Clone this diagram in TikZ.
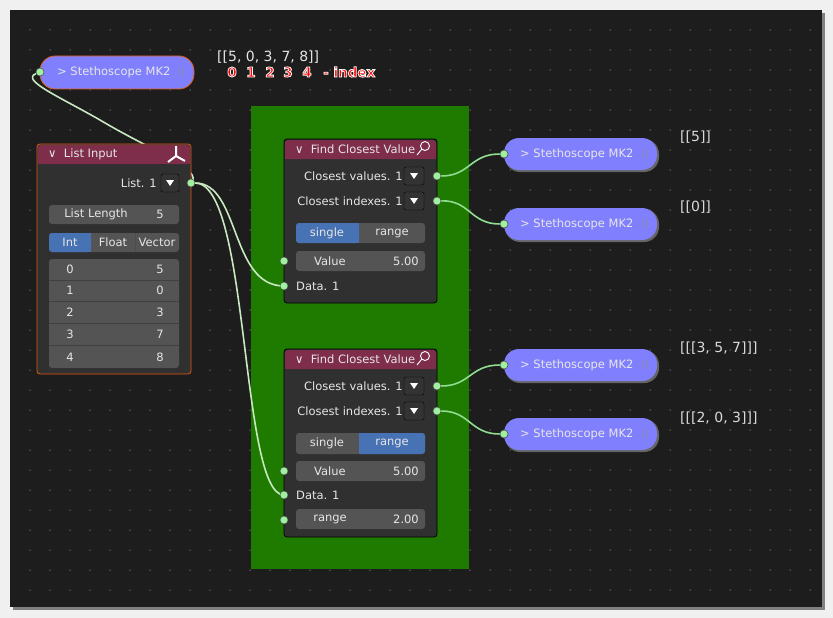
\documentclass[tikz,border=0pt]{standalone}
\usepackage{fontspec}
\setmainfont{DejaVu Sans}
\begin{document}
\definecolor{canvas}{HTML}{1D1D1D}
\definecolor{steth}{HTML}{8080FF}
\definecolor{hdr}{HTML}{7E2D4A}
\definecolor{body}{HTML}{303030}
\definecolor{field}{HTML}{545454}
\definecolor{sel}{HTML}{4772B3}
\definecolor{frame}{HTML}{1E7B00}
\definecolor{sock}{HTML}{A0F0A0}
\definecolor{wire}{HTML}{90DC90}
\definecolor{wire2}{HTML}{C8E8C0}
\definecolor{txt}{HTML}{E6E6E6}
\definecolor{ored}{HTML}{E05A10}
\tikzset{
 sk/.style={circle,fill=sock,draw=black!70,line width=0.5pt,inner sep=0,minimum size=8pt},
 lbl/.style={text=txt,font=\fontsize{11.5}{13}\selectfont,inner sep=0},
 st/.style={rounded corners=15pt,fill=steth},
 wr/.style={wire,line width=1.6pt},
 wr2/.style={wire2,line width=1.6pt},
 dd/.style={fill=black!80!white,draw=black,rounded corners=2pt},
 fld/.style={fill=field,rounded corners=3pt},
 res/.style={text=black!15,font=\fontsize{14}{16}\selectfont,inner sep=0,anchor=west},
 idxf/.style={font=\bfseries\fontsize{13.5}{15}\selectfont,inner sep=0,text=red}
}
\newcommand{\strk}[1]{\special{pdf:code 2 Tr 0.8 w 1 1 1 RG}#1\special{pdf:code 0 Tr}}
\begin{tikzpicture}[x=1pt,y=-1pt]
\useasboundingbox (0,0) rectangle (833,618);
\fill[black!6] (0,0) rectangle (833,618);
\fill[black!50] (13,13) rectangle (825,610);
\fill[canvas] (10,10) rectangle (822,607);
\foreach \i in {30,50,...,810}{\foreach \j in {30,50,...,590}{\fill[black!70!white!18] (\i,\j) circle (0.5);}}
% green frame
\fill[frame] (251,106) rectangle (469,569);
% top text
\node[res,text=black!10] (arr) at (217,57) {[[5, 0, 3, 7, 8]]};
\foreach \k/\x in {0/232,1/251,2/270,3/288,4/307}{
 \node[idxf] (i\k) at (\x,72) {\strk{\k}};}
\node[idxf,anchor=west] (ix) at (323,72) {\strk{- index}};
% top stethoscope
\draw[st,draw=ored,line width=0.8pt] (40,56) rectangle (194,89);
\node[lbl,anchor=west] (s0) at (57,72) {\textgreater\ Stethoscope MK2};
\node[text=black!45,inner sep=0,font=\small] (g0) at (181,72) {||};
\node[sk] (s0in) at (40,72) {};
% List input node
\coordinate (li) at (191,183);
\draw[wr2] (li) .. controls (205,170) and (150,150) .. (100,120) .. controls (60,97) and (20,80) .. (s0in);
\draw[ored,fill=body,line width=0.8pt,rounded corners=3pt] (37,144) rectangle (191,374);
\fill[hdr,rounded corners=3pt] (38,145) rectangle (190,164);
\fill[hdr] (38,158) rectangle (190,164);
\node[lbl,anchor=west] (lih) at (48,154) {\char"2228\ \ List Input};
\draw[white,line width=2pt] (176,146)--(176,156)--(168,162) (176,156)--(185,161);
\node[lbl,anchor=east] (l1) at (157,183) {List. 1};
\draw[dd] (161,174) rectangle (179,192);
\fill[white] (166,180)--(174,180)--(170,186)--cycle;
\fill[fld] (49,205) rectangle (179,224);
\node[lbl] (ll) at (96,214.5) {List Length};
\node[lbl] (llv) at (160,214.5) {5};
\fill[fld] (49,233) rectangle (179,252);
\fill[sel,rounded corners=3pt] (49,233) rectangle (91,252);
\fill[sel] (85,233) rectangle (91,252);
\draw[black!70] (135,233)--(135,252);
\node[lbl] (mi) at (70,242.5) {Int};
\node[lbl] (mf) at (113,242.5) {Float};
\node[lbl] (mv) at (157,242.5) {Vector};
\fill[fld] (49,259) rectangle (179,368);
\foreach \n/\v/\y in {0/5/269,1/0/290,2/3/312,3/7/334,4/8/357}{
 \node[lbl] (r\n) at (70,\y) {\n};
 \node[lbl] (v\n) at (160,\y) {\v};}
\foreach \y in {280,301,323,345}{\draw[black!75,line width=0.8pt] (49,\y)--(179,\y);}
\node[sk] (lout) at (li) {};
% wires from list
\coordinate (d1) at (284,286);
\coordinate (d2) at (284,495);
\draw[wr2] (lout) .. controls (240,183) and (230,286) .. (d1);
\draw[wr2] (lout) .. controls (250,183) and (240,495) .. (d2);
% Find Closest Value nodes
\foreach \t/\b/\nm in {139/303/a,349/537/b}{
 \draw[black,fill=body,line width=0.8pt,rounded corners=3pt] (284,\t) rectangle (437,\b);
 \fill[hdr,rounded corners=3pt] (285,\t+1) rectangle (436,\t+20);
 \fill[hdr] (285,\t+14) rectangle (436,\t+20);
 \node[lbl,anchor=west] (h\nm) at (295,\t+10) {\char"2228\ \ Find Closest Value};
 \draw[white,line width=0.9pt] (425,\t+7) circle (4.5) (421.5,\t+10.5)--(417,\t+16);
 \node[lbl,anchor=east] (cv\nm) at (403,\t+37) {Closest values. 1};
 \node[lbl,anchor=east] (ci\nm) at (403,\t+62) {Closest indexes. 1};
 \draw[dd] (404,\t+28) rectangle (424,\t+46);
 \draw[dd] (404,\t+53) rectangle (424,\t+71);
 \fill[white] (410,\t+34)--(418,\t+34)--(414,\t+40)--cycle;
 \fill[white] (410,\t+59)--(418,\t+59)--(414,\t+65)--cycle;
 \node[sk] (ov\nm) at (437,\t+37) {};
 \node[sk] (oi\nm) at (437,\t+62) {};
}
% mode bars
\fill[fld] (296,223) rectangle (425,243);
\fill[sel,rounded corners=3pt] (296,223) rectangle (359,243);
\fill[sel] (353,223) rectangle (359,243);
\node[lbl] (m1s) at (327,233) {single};
\node[lbl] (m1r) at (392,233) {range};
\fill[fld] (296,433) rectangle (425,454);
\fill[sel,rounded corners=3pt] (359,433) rectangle (425,454);
\fill[sel] (359,433) rectangle (365,454);
\node[lbl] (m2s) at (327,443.5) {single};
\node[lbl] (m2r) at (392,443.5) {range};
% value rows
\fill[fld] (296,251) rectangle (425,271);
\node[lbl] (va) at (330,261) {Value};
\node[lbl,anchor=east] (vva) at (419,261) {5.00};
\node[sk] (iva) at (284,261) {};
\node[lbl,anchor=west] (da) at (296,286) {Data. 1};
\fill[fld] (296,461) rectangle (425,481);
\node[lbl] (vb) at (330,471) {Value};
\node[lbl,anchor=east] (vvb) at (419,471) {5.00};
\node[sk] (ivb) at (284,471) {};
\node[lbl,anchor=west] (db) at (296,495) {Data. 1};
\fill[fld] (296,509) rectangle (425,529);
\node[lbl] (rb) at (330,519.5) {range};
\node[lbl,anchor=east] (rvb) at (419,519.5) {2.00};
\node[sk] (irb) at (284,520) {};
\node[sk] (ida) at (d1) {};
\node[sk] (idb) at (d2) {};
% right stethoscopes
\foreach \y/\nm in {154/p,224/q,365/r,434/s}{
 \fill[black!60,rounded corners=15pt] (505,\y-15) rectangle (659,\y+18);
 \fill[st] (504,\y-16) rectangle (657,\y+16);
 \node[lbl,anchor=west] (t\nm) at (520,\y) {\textgreater\ Stethoscope MK2};
 \node[text=black!45,inner sep=0,font=\small] (g\nm) at (645,\y) {||};
 \node[sk] (in\nm) at (504,\y) {};
}
\draw[wr] (ova) .. controls (470,176) and (470,154) .. (inp);
\draw[wr] (oia) .. controls (470,200) and (470,224) .. (inq);
\draw[wr] (ovb) .. controls (470,386) and (470,365) .. (inr);
\draw[wr] (oib) .. controls (470,411) and (470,434) .. (ins);
\foreach \n in {ova,oia,ovb,oib,inp,inq,inr,ins}{\node[sk] at (\n) {};}
\node[res] (rp) at (680,137) {[[5]]};
\node[res] (rq) at (680,207) {[[0]]};
\node[res] (rr) at (680,348) {[[[3, 5, 7]]]};
\node[res] (rs) at (680,418) {[[[2, 0, 3]]]};
\end{tikzpicture}
\end{document}
